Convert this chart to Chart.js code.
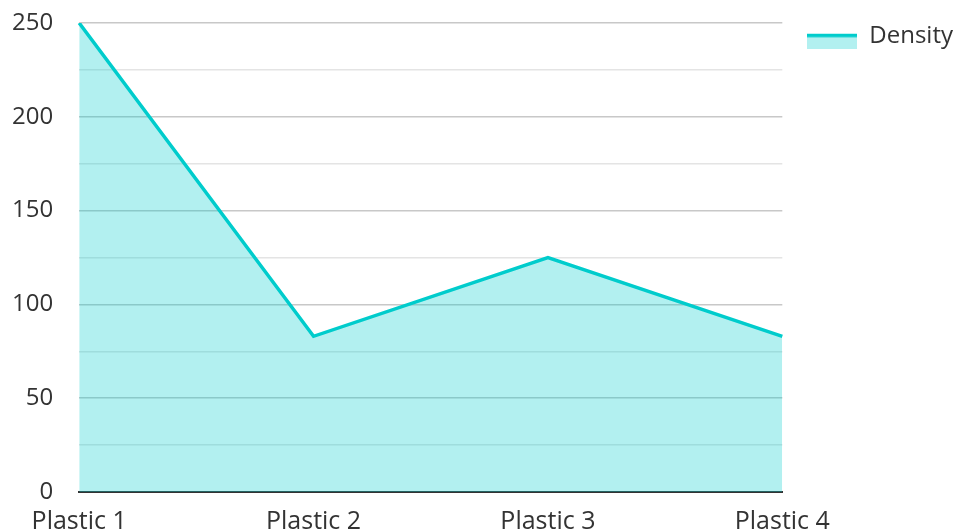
<!DOCTYPE html>
<html>
<head>
<meta charset="utf-8">
<script src="https://cdn.jsdelivr.net/npm/chart.js@4"></script>
<style>
  html, body { margin: 0; padding: 0; background: #fff; }
  #wrap { width: 956px; height: 531px; }
</style>
</head>
<body>
<div id="wrap"><canvas id="plot-density"></canvas></div>
<script>
const categories = ['Plastic 1', 'Plastic 2', 'Plastic 3', 'Plastic 4'];
const densityValues = [250, 83, 125, 83];
const yTicks = [0, 50, 100, 150, 200, 250];

const lineColor = 'rgb(0,204,204)';
const fillColor = 'rgba(0,204,204,0.3)';

// legend swatch: fill block with a line on top, sitting a bit below the text middle
const swatch = document.createElement('canvas');
swatch.width = 50;
swatch.height = 25;
const sctx = swatch.getContext('2d');
sctx.fillStyle = fillColor;
sctx.fillRect(0, 10, 50, 15);
sctx.fillStyle = lineColor;
sctx.fillRect(0, 10, 50, 3.5);

Chart.defaults.font.family = '"Open Sans", "Noto Sans", sans-serif';
Chart.defaults.font.size = 24;
Chart.defaults.color = '#333';

var ctx = document.getElementById('plot-density').getContext('2d');
var chart = new Chart(ctx, {
    type: 'line',
    data: {
        labels: categories,
        datasets: [{
            label: 'Density',
            data: densityValues,
            borderColor: lineColor,
            backgroundColor: fillColor,
            borderWidth: 3.5,
            radius: 0,
            tension: 0,
            fill: 'origin'
        }]
    },
    options: {
        responsive: true,
        maintainAspectRatio: false,
        animation: false,
        layout: {
            padding: { left: -14, top: -5, right: -7, bottom: -21 }
        },
        plugins: {
            tooltip: { enabled: false },
            legend: {
                position: 'right',
                align: 'start',
                title: { display: true, text: ' ', font: { size: 1 }, padding: { top: 0, bottom: 3 } },
                labels: {
                    usePointStyle: true,
                    pointStyleWidth: 50,
                    boxHeight: 15,
                    padding: 25,
                    font: { size: 24 },
                    color: '#333',
                    generateLabels: function(chart) {
                        return [{
                            text: 'Density',
                            pointStyle: swatch,
                            fillStyle: fillColor,
                            strokeStyle: lineColor,
                            lineWidth: 0,
                            datasetIndex: 0,
                            hidden: false
                        }];
                    }
                }
            }
        },
        scales: {
            x: {
                offset: false,
                grid: { display: false, drawTicks: false },
                border: { display: true, color: '#333', width: 2 },
                ticks: { padding: 15, maxRotation: 0, color: '#333', font: { size: 25 } }
            },
            y: {
                min: 0,
                max: 250,
                afterBuildTicks: function(scale) {
                    const t = [];
                    for (let v = 0; v <= 250; v += 25) t.push({ value: v });
                    scale.ticks = t;
                },
                afterFit: function(scale) {
                    // tick padding would otherwise push the plot top down
                    scale.paddingTop = 23;
                    scale.paddingBottom = 0;
                },
                grid: {
                    drawTicks: false,
                    color: function(c) {
                        if (c.tick.value === 0) return 'rgba(0,0,0,0)';
                        return yTicks.includes(c.tick.value) ? '#c8c8c8' : '#e4e4e4';
                    },
                    lineWidth: 1.5
                },
                border: { display: false },
                ticks: {
                    padding: 26,
                    color: '#333',
                    callback: function(v) { return yTicks.includes(v) ? String(v) : ''; }
                }
            }
        }
    }
});
</script>
</body>
</html>
